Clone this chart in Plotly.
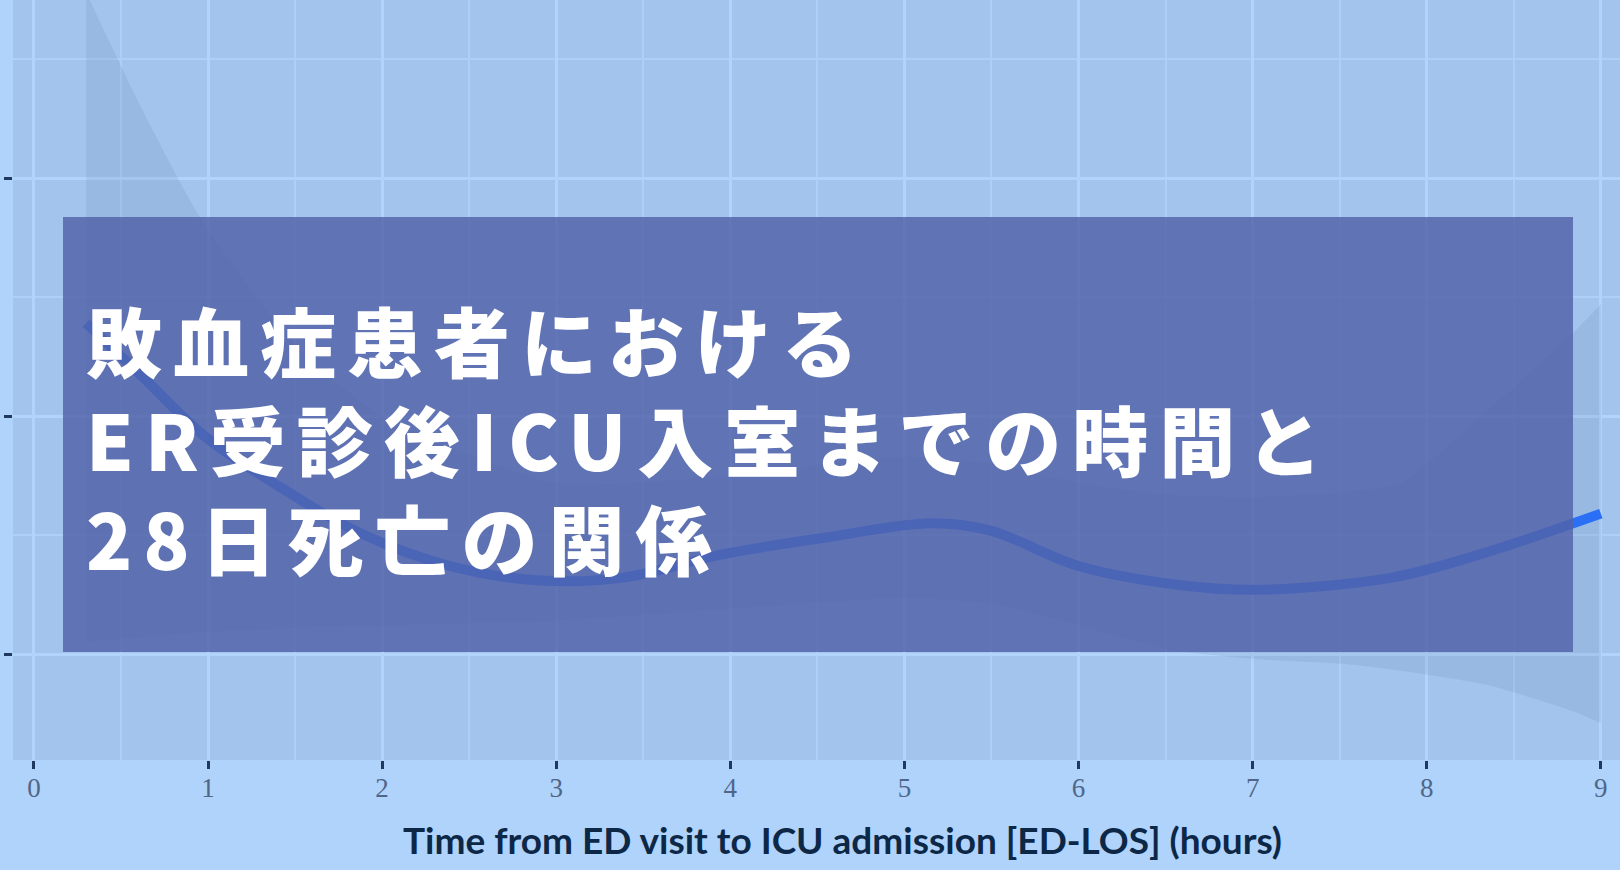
import plotly.graph_objects as go

# fitted curve (hours vs 28-day mortality)
fit_x = [0.30, 0.63, 0.99, 1.44, 1.87, 2.39, 2.89, 3.37, 3.96, 4.55, 5.15, 5.49, 6.00, 6.58, 7.02, 7.79, 8.31, 9.0]
fit_y = [0.339, 0.316, 0.291, 0.269, 0.251, 0.237, 0.231, 0.232, 0.242, 0.249, 0.255, 0.252, 0.237, 0.229, 0.227, 0.232, 0.242, 0.259]

# confidence band
band_x = [0.3, 0.6, 0.95, 1.5, 2.0, 3.0, 4.0, 5.0, 5.5, 6.0, 6.5, 7.0, 7.5, 7.85, 8.35, 8.84, 9.0]
band_upper = [0.478, 0.432, 0.384, 0.33, 0.30, 0.272, 0.275, 0.283, 0.28, 0.272, 0.267, 0.266, 0.268, 0.272, 0.3025, 0.335, 0.347]
band_lower = [0.205, 0.207, 0.209, 0.211, 0.212, 0.214, 0.219, 0.2235, 0.221, 0.212, 0.202, 0.198, 0.196, 0.193, 0.187, 0.176, 0.171]

x_ticks = [0, 1, 2, 3, 4, 5, 6, 7, 8, 9]
title_lines = ["敗血症患者における", "ER受診後ICU入室までの時間と", "28日死亡の関係"]
x_title = "Time from ED visit to ICU admission [ED-LOS] (hours)"

fig = go.Figure()
fig.add_trace(go.Scatter(x=band_x, y=band_lower, mode="lines", line=dict(width=0, shape="spline", smoothing=0.6),
                         hoverinfo="skip", showlegend=False))
fig.add_trace(go.Scatter(x=band_x, y=band_upper, mode="lines", line=dict(width=0, shape="spline", smoothing=0.6),
                         fill="tonexty", fillcolor="rgba(52,87,137,0.10)", hoverinfo="skip", showlegend=False))
fig.add_trace(go.Scatter(x=fit_x, y=fit_y, mode="lines",
                         line=dict(color="#2a6ff5", width=10, shape="spline", smoothing=1.0),
                         showlegend=False))

grid_major = "#b3d4fa"
grid_minor = "#aecff6"

fig.update_layout(
    width=1620, height=870,
    paper_bgcolor="#afd3fb",
    plot_bgcolor="#a3c5ed",
    margin=dict(l=13, r=0, t=0, b=110),
    xaxis=dict(range=[-0.12, 9.11], tickvals=x_ticks, ticktext=[str(v) for v in x_ticks],
               showgrid=True, gridcolor=grid_major, gridwidth=3, zeroline=False, showline=False,
               ticks="outside", ticklen=8, tickwidth=3, tickcolor="#1f3a5e",
               tickfont=dict(family="Liberation Serif", size=27, color="#4f6688"),
               ticklabelstandoff=-4,
               minor=dict(dtick=0.5, tick0=0, showgrid=True, gridcolor=grid_minor, gridwidth=2, ticks=""),
               automargin=False),
    yaxis=dict(range=[0.1555, 0.4748], dtick=0.1, tick0=0, showticklabels=False,
               showgrid=True, gridcolor=grid_major, gridwidth=3, zeroline=False, showline=False,
               ticks="outside", ticklen=8, tickwidth=3, tickcolor="#1f3a5e",
               minor=dict(dtick=0.05, tick0=0, showgrid=True, gridcolor=grid_minor, gridwidth=2, ticks=""),
               automargin=False),
)

W, H = 1607.0, 760.0
def px_x(p):
    return (p - 13) / W
def px_y(p):
    return (760 - p) / H

fig.add_shape(type="rect", xref="paper", yref="paper",
              x0=px_x(63), x1=px_x(1573), y0=px_y(652), y1=px_y(217),
              fillcolor="rgba(82,97,168,0.82)", line=dict(width=0), layer="above")

fig.add_annotation(xref="paper", yref="paper", x=px_x(84), y=px_y(438),
                   xanchor="left", yanchor="middle", align="left", showarrow=False,
                   text='<span style="letter-spacing:11px">' + "<br>".join(title_lines) + '</span>',
                   font=dict(family="Noto Sans CJK JP", size=76, color="white", weight=900))

# x-axis title (centred as in the source image)
fig.add_annotation(xref="paper", yref="paper", x=px_x(842), y=px_y(840),
                   xanchor="center", yanchor="middle", showarrow=False, text=x_title,
                   font=dict(family="Lato", size=37, color="#0d2747", weight="bold"))

fig.write_html("out.html", config={"displayModeBar": False},
               post_script="document.body.style.margin='0';document.body.style.overflow='hidden';")
